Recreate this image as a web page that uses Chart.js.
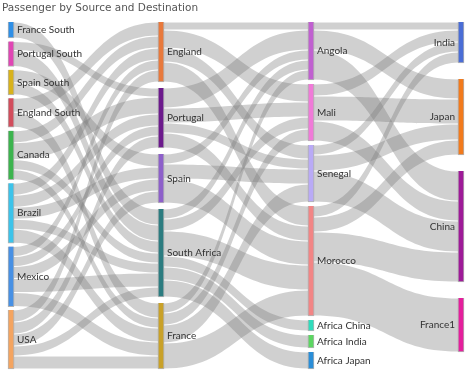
<!DOCTYPE html>
<html>
<head>
<meta charset="utf-8">
<title>Passenger by Source and Destination</title>
<script src="https://cdn.jsdelivr.net/npm/chart.js@4.4.0/dist/chart.umd.min.js"></script>
<style>
  html, body { margin: 0; padding: 0; background: #fff; }
  #wrap { width: 474px; height: 375px; }
</style>
</head>
<body>
<div id="wrap"><canvas id="myChart" width="474" height="375"></canvas></div>
<script>
// sankey columns, left to right
var sources = ["France South", "Portugal South", "Spain South", "England South", "Canada", "Brazil", "Mexico", "USA"];
var hubs = ["England", "Portugal", "Spain", "South Africa", "France"];
var africa = ["Angola", "Mali", "Senegal", "Morocco", "Africa China", "Africa India", "Africa Japan"];
var destinations = ["India", "Japan", "China", "France1"];

// passengers: [from, to, value]
var sourceToHub = [
    ["France South", "South Africa", 16],
    ["Portugal South", "Portugal", 9],
    ["Portugal South", "South Africa", 16],
    ["Spain South", "Spain", 13],
    ["Spain South", "South Africa", 12],
    ["England South", "England", 14],
    ["England South", "France", 15],
    ["Canada", "England", 12],
    ["Canada", "Portugal", 17],
    ["Canada", "South Africa", 10],
    ["Canada", "France", 10],
    ["Brazil", "England", 12],
    ["Brazil", "Portugal", 12],
    ["Brazil", "Spain", 12],
    ["Brazil", "South Africa", 10],
    ["Brazil", "France", 14],
    ["Mexico", "England", 10],
    ["Mexico", "Portugal", 10],
    ["Mexico", "Spain", 12],
    ["Mexico", "South Africa", 14],
    ["Mexico", "France", 14],
    ["USA", "England", 12],
    ["USA", "Portugal", 12],
    ["USA", "Spain", 12],
    ["USA", "South Africa", 10],
    ["USA", "France", 13]
];
var hubToAfrica = [
    ["England", "Angola", 8],
    ["England", "Mali", 18],
    ["England", "Senegal", 14],
    ["England", "Morocco", 20],
    ["Portugal", "Angola", 20],
    ["Portugal", "Mali", 15],
    ["Portugal", "Senegal", 10],
    ["Portugal", "Morocco", 15],
    ["Spain", "Angola", 10],
    ["Spain", "Senegal", 15],
    ["Spain", "Morocco", 24],
    ["South Africa", "Angola", 10],
    ["South Africa", "Mali", 12],
    ["South Africa", "Morocco", 25],
    ["South Africa", "Africa China", 11],
    ["South Africa", "Africa India", 13],
    ["South Africa", "Africa Japan", 17],
    ["France", "Angola", 10],
    ["France", "Mali", 12],
    ["France", "Senegal", 18],
    ["France", "Morocco", 26]
];
var africaToDest = [
    ["Angola", "India", 8],
    ["Angola", "Japan", 20],
    ["Angola", "China", 30],
    ["Mali", "India", 12],
    ["Mali", "Japan", 25],
    ["Mali", "China", 20],
    ["Senegal", "India", 10],
    ["Senegal", "Japan", 16],
    ["Senegal", "China", 31],
    ["Morocco", "India", 11],
    ["Morocco", "Japan", 15],
    ["Morocco", "China", 30],
    ["Morocco", "France1", 54]
];

var nodeColors = {
    "France South": "#2f8fe6", "Portugal South": "#e046b4", "Spain South": "#d8b21c", "England South": "#d24d5c",
    "Canada": "#3cb44e", "Brazil": "#3cc3ea", "Mexico": "#4790e4", "USA": "#f4a460",
    "England": "#e8793c", "Portugal": "#6c1a8c", "Spain": "#8d5fca", "South Africa": "#2c7c80", "France": "#c9a128",
    "Angola": "#c060d0", "Mali": "#f07ad8", "Senegal": "#b9aaf6", "Morocco": "#f28585",
    "Africa China": "#30dcbc", "Africa India": "#5cd662", "Africa Japan": "#2a8ed8",
    "India": "#4a6dd6", "Japan": "#f27a1c", "China": "#9e1a98", "France1": "#e41e9c"
};

var H = 347; // y axis height in passenger units
var columns = [sources, hubs, africa, destinations];
var links = sourceToHub.concat(hubToAfrica, africaToDest).map(function (l) {
    return { from: l[0], to: l[1], value: l[2] };
});
var nodes = {};
columns.forEach(function (names, col) {
    names.forEach(function (name) {
        nodes[name] = { name: name, col: col, inVal: 0, outVal: 0, ins: [], outs: [] };
    });
});
links.forEach(function (l) {
    nodes[l.from].outVal += l.value;
    nodes[l.from].outs.push(l);
    nodes[l.to].inVal += l.value;
    nodes[l.to].ins.push(l);
});
columns.forEach(function (names) {
    var sum = 0;
    names.forEach(function (n) {
        nodes[n].value = Math.max(nodes[n].inVal, nodes[n].outVal);
        sum += nodes[n].value;
    });
    var gap = Math.min((H - sum) / (names.length - 1), 16);
    var y = 0;
    names.forEach(function (n) {
        nodes[n].y0 = y;
        nodes[n].y1 = y + nodes[n].value;
        y = nodes[n].y1 + gap;
    });
});
Object.keys(nodes).forEach(function (k) {
    var n = nodes[k];
    n.outs.sort(function (a, b) { return nodes[a.to].y0 - nodes[b.to].y0; });
    n.ins.sort(function (a, b) { return nodes[a.from].y0 - nodes[b.from].y0; });
    var y = n.y0;
    n.outs.forEach(function (l) { l.sy = y; y += l.value; });
    y = n.y0;
    n.ins.forEach(function (l) { l.ty = y; y += l.value; });
});

var bars = [], colors = [], names = [];
columns.forEach(function (col) {
    col.forEach(function (n) {
        bars.push({ x: nodes[n].col, y: [nodes[n].y0, nodes[n].y1] });
        colors.push(nodeColors[n]);
        names.push(n);
    });
});

var sankeyLinks = {
    id: 'sankeyLinks',
    beforeDatasetsDraw: function (chart) {
        var xs = chart.scales.x, ys = chart.scales.y, c = chart.ctx;
        c.save();
        c.fillStyle = 'rgba(120,120,120,0.35)';
        links.forEach(function (l) {
            var x0 = xs.getPixelForValue(nodes[l.from].col) + 3;
            var x1 = xs.getPixelForValue(nodes[l.to].col) - 3;
            var xm = (x0 + x1) / 2;
            var a0 = ys.getPixelForValue(l.sy) + 0.5, a1 = ys.getPixelForValue(l.sy + l.value) - 0.5;
            var b0 = ys.getPixelForValue(l.ty) + 0.5, b1 = ys.getPixelForValue(l.ty + l.value) - 0.5;
            c.beginPath();
            c.moveTo(x0, a0);
            c.bezierCurveTo(xm, a0, xm, b0, x1, b0);
            c.lineTo(x1, b1);
            c.bezierCurveTo(xm, b1, xm, a1, x0, a1);
            c.closePath();
            c.fill();
        });
        c.restore();
    },
    afterDatasetsDraw: function (chart) {
        var xs = chart.scales.x, ys = chart.scales.y, c = chart.ctx;
        c.save();
        c.font = '10px Lato';
        c.fillStyle = '#333';
        c.textBaseline = 'middle';
        names.forEach(function (n) {
            var node = nodes[n];
            var px = xs.getPixelForValue(node.col);
            var py = ys.getPixelForValue((node.y0 + node.y1) / 2);
            if (node.col === 3) {
                c.textAlign = 'right';
                c.fillText(n, px - 6, py);
            } else {
                c.textAlign = 'left';
                c.fillText(n, px + 6, py);
            }
        });
        c.restore();
    }
};

var ctx = document.getElementById("myChart");
var myChart = new Chart(ctx, {
    type: 'bar',
    data: {
        datasets: [{
            data: bars,
            backgroundColor: colors,
            borderColor: 'rgba(0,0,0,0.3)',
            borderWidth: 1,
            barThickness: 6,
            clip: false
        }]
    },
    options: {
        responsive: false,
        animation: false,
        layout: { padding: { left: 2, right: 0, top: 0, bottom: 6 } },
        scales: {
            x: { type: 'linear', offset: false, min: -0.06, max: 3.0867, display: false },
            y: { min: 0, max: H, reverse: true, display: false }
        },
        plugins: {
            legend: { display: false },
            tooltip: { enabled: false },
            title: {
                display: true,
                text: 'Passenger by Source and Destination',
                align: 'start',
                color: '#555',
                font: { family: 'DejaVu Sans', size: 10.5, weight: 'normal' },
                padding: { top: 2, bottom: 7.4 }
            }
        }
    },
    plugins: [sankeyLinks]
});
</script>
</body>
</html>
